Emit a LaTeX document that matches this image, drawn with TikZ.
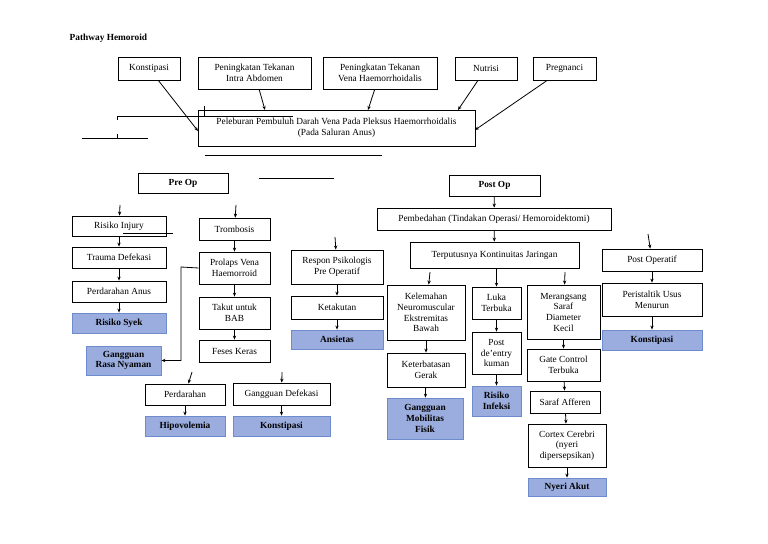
\documentclass[tikz,border=0pt]{standalone}
\usepackage{fontspec}
\setmainfont{Liberation Serif}
\usetikzlibrary{arrows.meta}
\definecolor{dxfill}{RGB}{155,173,222}
\definecolor{dxline}{RGB}{110,140,205}
% box from corner (x1,y1) to (x2,y2), pixel units, y downward
\newcommand{\bx}[7][box]{\node[#1, minimum width={0.75pt*(#5-#3)}, minimum height={0.75pt*(#6-#4)}] (#2) at ({(#3+#5)/2},{(#4+#6)/2}) {#7};}
\begin{document}
\begin{tikzpicture}[
        x=0.75pt, y=-0.75pt,
        box/.style={rectangle, draw=black, line width=0.6pt, inner sep=1pt, align=center, font=\fontsize{7}{8}\selectfont},
        head/.style={box, font=\fontsize{7}{8}\selectfont\bfseries},
        diag/.style={box, draw=dxline, fill=dxfill, font=\fontsize{7}{8}\selectfont\bfseries},
        arr/.style={-{Stealth[length=3pt,width=2.5pt]}, line width=0.6pt},
        stray/.style={line width=0.6pt}
        ]
        \useasboundingbox (0,0) rectangle (768,543);
        \node[font=\fontsize{7}{8}\selectfont\bfseries, anchor=west] (title) at (65,38) {Pathway Hemoroid};

        % causes
        \bx{konst}{118}{57}{180}{80}{Konstipasi}
        \bx{intra}{198}{57}{311}{89}{Peningkatan Tekanan\\Intra Abdomen}
        \bx{vena}{323}{57}{437}{89}{Peningkatan Tekanan\\Vena Haemorrhoidalis}
        \bx{nutrisi}{455}{57}{517}{80}{Nutrisi}
        \bx{preg}{533}{57}{596}{80}{Pregnanci}
        \bx{pelebur}{198}{110}{475}{146}{Peleburan Pembuluh Darah Vena Pada Pleksus Haemorrhoidalis\\(Pada Saluran Anus)}

        \coordinate (pA) at (198,131);
        \coordinate (pB) at (265,110);
        \coordinate (pC) at (368,110);
        \coordinate (pD) at (458,110);
        \coordinate (pE) at (475,130);
        \draw[arr] (konst) -- (pA);
        \draw[arr] (intra) -- (pB);
        \draw[arr] (vena) -- (pC);
        \draw[arr] (nutrisi) -- (pD);
        \draw[arr] (preg) -- (pE);

        % stray lines
        \draw[stray] (117,120) -- (117,116) -- (293,116);
        \draw[stray] (204,106) -- (204,116);
        \draw[stray] (82,138) -- (148,138);
        \draw[stray] (117,134) -- (117,138);
        \draw[stray] (205,155) -- (382,155);
        \draw[stray] (259,178) -- (334,178);
        \draw[stray] (123,233) -- (173,233);

        \bx[head]{preop}{138}{173}{228}{193}{Pre Op}
        \bx[head]{postop}{449}{175}{540}{196}{Post Op}
        \bx{bedah}{377}{208}{611}{230}{Pembedahan (Tindakan Operasi/ Hemoroidektomi)}
        \draw[arr] (postop) -- (bedah);

        % pre op, left column
        \bx{injury}{72}{216}{166}{236}{Risiko Injury}
        \bx{trauma}{72}{247}{166}{268}{Trauma Defekasi}
        \bx{darahanus}{72}{281}{166}{302}{Perdarahan Anus}
        \bx[diag]{syok}{72}{313}{166}{333}{Risiko Syek}
        \coordinate (s1) at (120,205);
        \draw[arr] (s1) -- (injury);
        \draw[arr] (injury) -- (trauma);
        \draw[arr] (trauma) -- (darahanus);
        \draw[arr] (darahanus) -- (syok);

        % pre op, trombosis
        \bx{trombo}{199}{218}{270}{240}{Trombosis}
        \bx{prolaps}{199}{252}{270}{284}{Prolaps Vena\\Haemorroid}
        \bx{takut}{199}{297}{270}{329}{Takut untuk\\BAB}
        \bx{feses}{199}{340}{270}{362}{Feses Keras}
        \bx[diag]{nyaman}{86}{346}{161}{375}{Gangguan\\Rasa Nyaman}
        \coordinate (s2) at (236,205);
        \draw[arr] (s2) -- (trombo);
        \draw[arr] (trombo) -- (prolaps);
        \draw[arr] (prolaps) -- (takut);
        \draw[arr] (takut) -- (feses);
        \draw[arr] (prolaps.west) -- (181,267) |- (nyaman.east);

        \bx{perdarahan}{145}{384}{225}{405}{Perdarahan}
        \bx[diag]{hipo}{145}{416}{225}{436}{Hipovolemia}
        \bx{defekasi}{233}{383}{330}{405}{Gangguan Defekasi}
        \bx[diag]{konstA}{233}{416}{330}{436}{Konstipasi}
        \coordinate (s3) at (192,372);
        \coordinate (s4) at (282,372);
        \draw[arr] (s3) -- (perdarahan);
        \draw[arr] (s4) -- (defekasi);
        \draw[arr] (perdarahan) -- (hipo);
        \draw[arr] (defekasi) -- (konstA);

        % pre op, psikologis
        \bx{respon}{291}{250}{383}{284}{Respon Psikologis\\Pre Operatif}
        \bx{takutan}{291}{296}{383}{319}{Ketakutan}
        \bx[diag]{ansietas}{291}{330}{383}{349}{Ansietas}
        \coordinate (s5) at (335,237);
        \draw[arr] (s5) -- (respon);
        \draw[arr] (respon) -- (takutan);
        \draw[arr] (takutan) -- (ansietas);

        % post op
        \bx{putus}{410}{242}{579}{268}{Terputusnya Kontinuitas Jaringan}
        \draw[arr] (bedah) -- (putus);

        \bx{lemah}{387}{285}{465}{340}{Kelemahan\\Neuromuscular\\Ekstremitas\\Bawah}
        \bx{batas}{387}{353}{465}{387}{Keterbatasan\\Gerak}
        \bx[diag]{mobil}{387}{398}{463}{439}{Gangguan\\Mobilitas\\Fisik}
        \coordinate (s6) at (430,272);
        \draw[arr] (s6) -- (lemah);
        \draw[arr] (lemah) -- (batas);
        \draw[arr] (batas) -- (mobil);

        \bx{luka}{472}{287}{521}{319}{Luka\\Terbuka}
        \bx{entry}{472}{332}{521}{374}{Post\\de'entry\\kuman}
        \bx[diag]{infeksi}{472}{386}{521}{416}{Risiko\\Infeksi}
        \draw[arr] (putus.south -| luka) -- (luka);
        \draw[arr] (luka) -- (entry);
        \draw[arr] (entry) -- (infeksi);

        \bx{rangsang}{527}{285}{600}{339}{Merangsang\\Saraf\\Diameter\\Kecil}
        \bx{gate}{527}{349}{600}{381}{Gate Control\\Terbuka}
        \bx{afferen}{530}{391}{600}{413}{Saraf Afferen}
        \bx{cortex}{528}{424}{606}{467}{Cortex Cerebri\\(nyeri\\dipersepsikan)}
        \bx[diag]{nyeri}{528}{478}{606}{496}{Nyeri Akut}
        \coordinate (s7) at (565,272);
        \draw[arr] (s7) -- (rangsang);
        \draw[arr] (rangsang) -- (gate);
        \draw[arr] (gate) -- (afferen);
        \draw[arr] (afferen) -- (cortex);
        \draw[arr] (cortex) -- (nyeri);

        \bx{postoperatif}{602}{249}{702}{271}{Post Operatif}
        \bx{peristaltik}{602}{283}{702}{316}{Peristaltik Usus\\Menurun}
        \bx[diag]{konstB}{602}{330}{702}{350}{Konstipasi}
        \coordinate (s8) at (648,234);
        \draw[arr] (s8) -- (postoperatif);
        \draw[arr] (postoperatif) -- (peristaltik);
        \draw[arr] (peristaltik) -- (konstB);
\end{tikzpicture}
\end{document}
